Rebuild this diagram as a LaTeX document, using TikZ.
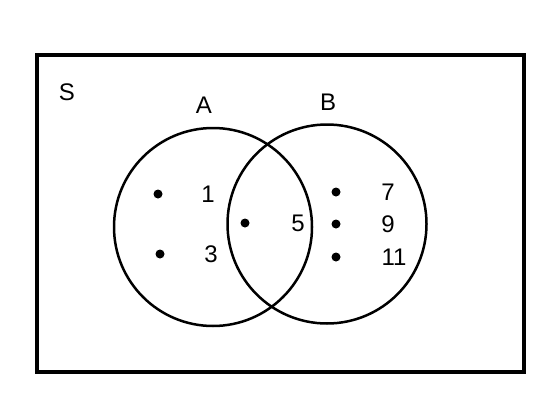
\documentclass[tikz,border=0pt]{standalone}
\usepackage{fontspec}
\setmainfont{Liberation Sans}
\usetikzlibrary{positioning}

\begin{document}
\begin{tikzpicture}[x=1pt,y=-1pt,node distance=51pt,on grid,
  elem/.style={circle,fill,inner sep=0pt,minimum size=9pt},
  lbl/.style={inner sep=0pt,font=\fontsize{24}{27}\selectfont}]
  \useasboundingbox (0,0) rectangle (553,404);
  \draw[line width=3.2pt] (37,55) rectangle (524,372);
  \draw[line width=2.5pt] (213,227) circle (99);
  \draw[line width=2.5pt] (327,224) circle (99.5);
  \node[lbl] (S) at (67,92) {S};
  \node[lbl] (A) at (204,105) {A};
  \node[lbl] (B) at (328,102) {B};
  \node[elem] (d1) at (158,194) {};
  \node[elem] (d3) at (160,254) {};
  \node[elem] (d5) at (245,223) {};
  \node[elem] (d7) at (336,192) {};
  \node[elem] (d9) at (336,224) {};
  \node[elem] (d11) at (336,257) {};
  \node[lbl] (n1) [right = 50pt of d1] {1};
  \node[lbl] (n3) [right = of d3] {3};
  \node[lbl] (n5) [right = 53pt of d5] {5};
  \node[lbl] (n7) [right = 52pt of d7] {7};
  \node[lbl] (n9) [right = 52pt of d9] {9};
  \node[lbl] (n11) [right = 58pt of d11] {11};
\end{tikzpicture}
\end{document}
